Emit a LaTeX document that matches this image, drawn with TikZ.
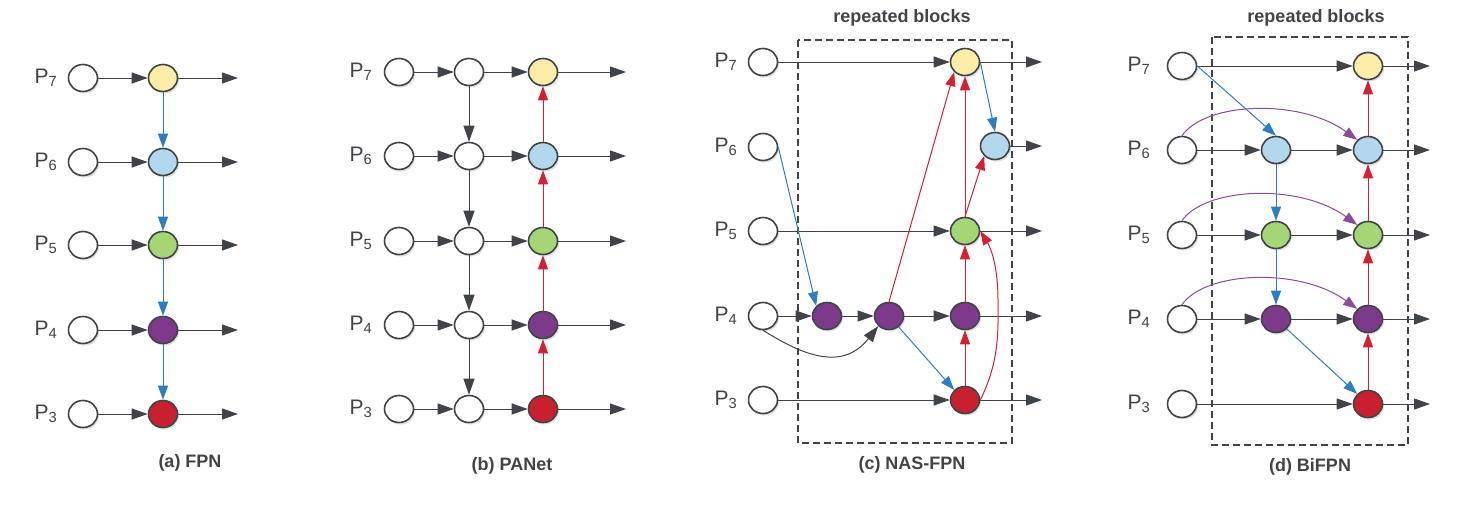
\documentclass[tikz,border=0pt]{standalone}
\usepackage{fontspec}
\setmainfont{Liberation Sans}
\usetikzlibrary{arrows.meta,shadows,shapes.geometric}
\definecolor{cy}{HTML}{FCEDA8}
\definecolor{cb}{HTML}{B3D8EE}
\definecolor{cg}{HTML}{A5D676}
\definecolor{cp}{HTML}{7E3A8A}
\definecolor{cr}{HTML}{C8202F}
\definecolor{eg}{HTML}{404448}
\definecolor{eb}{HTML}{2A7FC4}
\definecolor{er}{HTML}{D42030}
\definecolor{ep}{HTML}{8E4A9A}
\tikzset{
 nd/.style={ellipse,draw=eg,line width=1.6pt,minimum width=29pt,minimum height=27pt,inner sep=0pt,fill=white,drop shadow={shadow xshift=1.5pt,shadow yshift=-2pt,opacity=0.25}},
 lb/.style={font=\fontsize{21}{22}\selectfont,text=eg},
 capt/.style={font=\bfseries\fontsize{18}{19}\selectfont,text=eg},
 ga/.style={draw=eg,line width=1pt,-{Triangle[length=16pt,width=11pt]}},
 ba/.style={draw=eb,line width=1pt,-{Triangle[length=14pt,width=10pt]}},
 ra/.style={draw=er,line width=1pt,-{Triangle[length=14pt,width=10pt]}},
 pa/.style={draw=ep,line width=1pt,-{Triangle[length=14pt,width=10pt]}},
 box/.style={draw=eg,dash pattern=on 7pt off 4pt,line width=1.4pt},
}
\newcommand{\pl}[1]{P\textsubscript{#1}}
\begin{document}
\begin{tikzpicture}[x=1pt,y=-1pt]
\useasboundingbox (0,0) rectangle (1477,522);
% ---------- (a)
\foreach \i/\y/\c in {7/78/cy,6/162/cb,5/245/cg,4/330/cp,3/414/cr}{
 \node[lb] (aL\i) at (46,\y) {\pl{\i}};
 \node[nd] (aI\i) at (83,\y) {};
 \node[nd,fill=\c] (aN\i) at (163,\y) {};
 \coordinate (aE\i) at (238,\y);
 \draw[ga] (aI\i) -- (aN\i);
 \draw[ga] (aN\i) -- (aE\i);
}
\foreach \a/\b in {7/6,6/5,5/4,4/3} \draw[ba] (aN\a) -- (aN\b);
\node[capt] (ca) at (190,463) {(a) FPN};
% ---------- (b)
\foreach \i/\y/\c in {7/72/cy,6/156/cb,5/241/cg,4/325/cp,3/409/cr}{
 \node[lb] (bL\i) at (361,\y) {\pl{\i}};
 \node[nd] (bI\i) at (399,\y) {};
 \node[nd] (bM\i) at (469,\y) {};
 \node[nd,fill=\c] (bN\i) at (543,\y) {};
 \coordinate (bE\i) at (626,\y);
 \draw[ga] (bI\i) -- (bM\i);
 \draw[ga] (bM\i) -- (bN\i);
 \draw[ga] (bN\i) -- (bE\i);
}
\foreach \a/\b in {7/6,6/5,5/4,4/3} {\draw[ga] (bM\a) -- (bM\b); \draw[ra] (bN\b) -- (bN\a);}
\node[capt] (cb) at (512,466) {(b) PANet};
% ---------- (c)
\draw[box] (798,40) rectangle (1012,443);
\node[capt] (tc) at (902,18) {repeated blocks};
\foreach \i/\y in {7/62,6/147,5/231,4/316,3/400}{
 \node[lb] (cL\i) at (726,\y) {\pl{\i}};
 \node[nd] (cI\i) at (763,\y) {};
}
\node[nd,fill=cy] (c7) at (965,62) {};
\node[nd,fill=cb] (c6) at (995,146) {};
\node[nd,fill=cg] (c5) at (965,231) {};
\node[nd,fill=cp] (c4a) at (827,316) {};
\node[nd,fill=cp] (c4b) at (889,316) {};
\node[nd,fill=cp] (c4) at (965,316) {};
\node[nd,fill=cr] (c3) at (965,400) {};
\foreach \n/\y in {7/62,6/146,5/231,4/316,3/400} \coordinate (cE\n) at (1042,\y);
\draw[ga] (cI7) -- (c7); \draw[ga] (cI5) -- (c5); \draw[ga] (cI3) -- (c3);
\draw[ga] (cI4) -- (c4a); \draw[ga] (c4a) -- (c4b); \draw[ga] (c4b) -- (c4);
\draw[ga] (c7) -- (cE7); \draw[ga] (c6) -- (cE6); \draw[ga] (c5) -- (cE5); \draw[ga] (c4) -- (cE4); \draw[ga] (c3) -- (cE3);
\draw[ga] (cI4.south) .. controls (795,350) and (840,375) .. (c4b.south west);
\draw[ba] (cI6.east) -- (c4a.north west);
\draw[ba] (c4b) -- (c3.north west);
\draw[ba] (c7.east) -- (c6.north);
\draw[ra] (c4b.north) -- (c7.south west);
\draw[ra] (c5) -- (c7); \draw[ra] (c4) -- (c5); \draw[ra] (c3) -- (c4);
\draw[ra] (c5.north) -- (c6.south west);
\draw[ra] (c3.east) .. controls (1000,360) and (998,330) .. (998,300) .. controls (998,270) and (992,250) .. (c5.east);
\node[capt] (ccap) at (912,465) {(c) NAS-FPN};
% ---------- (d)
\draw[box] (1212,37) rectangle (1408,445);
\node[capt] (td) at (1316,18) {repeated blocks};
\foreach \i/\y in {7/66,6/150,5/235,4/319,3/404}{
 \node[lb] (dL\i) at (1139,\y) {\pl{\i}};
 \node[nd] (dI\i) at (1182,\y) {};
 \coordinate (dE\i) at (1430,\y);
}
\node[nd,fill=cy] (d7) at (1368,66) {};
\node[nd,fill=cb] (d6a) at (1276,150) {};
\node[nd,fill=cb] (d6) at (1368,150) {};
\node[nd,fill=cg] (d5a) at (1276,235) {};
\node[nd,fill=cg] (d5) at (1368,235) {};
\node[nd,fill=cp] (d4a) at (1276,319) {};
\node[nd,fill=cp] (d4) at (1368,319) {};
\node[nd,fill=cr] (d3) at (1368,404) {};
\draw[ga] (dI7) -- (d7); \draw[ga] (dI3) -- (d3);
\foreach \n/\y in {6/150,5/235,4/319} {
 \draw[ga] (dI\n) -- (d\n a); \draw[ga] (d\n a) -- (d\n);
 \draw[pa] (dI\n.north) .. controls (1205,{\y-48}) and (1300,{\y-52}) .. (d\n.north west);}
\foreach \n in {7,6,5,4,3} \draw[ga] (d\n) -- (dE\n);
\draw[ba] (dI7.east) -- (d6a.north);
\draw[ba] (d6a) -- (d5a); \draw[ba] (d5a) -- (d4a);
\draw[ba] (d4a) -- (d3.north west);
\draw[ra] (d3) -- (d4); \draw[ra] (d4) -- (d5); \draw[ra] (d5) -- (d6); \draw[ra] (d6) -- (d7);
\node[capt] (dcap) at (1310,467) {(d) BiFPN};
\end{tikzpicture}
\end{document}
